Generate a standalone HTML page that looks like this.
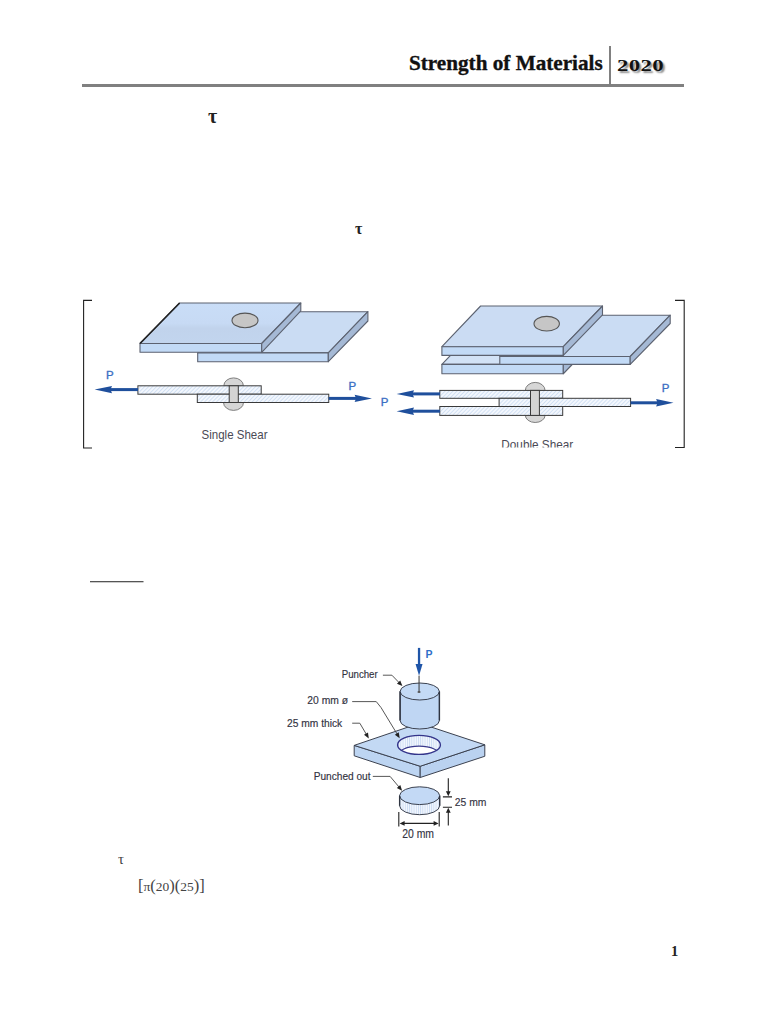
<!DOCTYPE html>
<html><head><meta charset="utf-8">
<style>
html,body{margin:0;padding:0;background:#fff;}
body{width:768px;height:1024px;position:relative;overflow:hidden;font-family:"Liberation Serif",serif;}
.a{position:absolute;white-space:nowrap;line-height:1;}
#hdr{left:409px;top:53px;font-size:21.5px;font-weight:bold;color:#111;-webkit-text-stroke:0.35px #111;transform-origin:0 0;transform:scaleX(0.985);}
#yr{left:617px;top:56.5px;font-size:17.5px;transform:scaleX(1.3);transform-origin:0 0;letter-spacing:0.3px;font-weight:bold;color:#111;text-shadow:1.5px 1.5px 1.5px rgba(0,0,0,0.45);}
#hline{left:82px;top:84px;width:602px;height:3px;background:#808080;}
#vline{left:608.5px;top:46px;width:2.3px;height:39px;background:#808080;}
svg{position:absolute;left:0;top:0;}
.br{font-size:16.5px;}
</style></head>
<body>
<div class="a" id="hdr">Strength of Materials</div>
<div class="a" id="yr">2020</div>
<div class="a" id="hline"></div>
<div class="a" id="vline"></div>

<div class="a" style="left:208px;top:106px;font-size:20px;font-weight:bold;color:#222;">&#964;</div>
<div class="a" style="left:355px;top:221px;font-size:16px;font-weight:bold;color:#222;">&#964;</div>

<svg width="768" height="1024" viewBox="0 0 768 1024">
<defs>
<pattern id="hatch" patternUnits="userSpaceOnUse" width="2.8" height="2.8" patternTransform="rotate(45)">
<rect width="2.8" height="2.8" fill="#f3f7fd"/>
<line x1="0" y1="0" x2="0" y2="2.8" stroke="#c3d6ef" stroke-width="1.3"/>
</pattern>
<linearGradient id="tg1" gradientUnits="userSpaceOnUse" x1="0" y1="303" x2="0" y2="343.5">
<stop offset="0" stop-color="#c9ddf7"/><stop offset="0.5" stop-color="#c7daf4"/><stop offset="0.62" stop-color="#c1d3ec"/><stop offset="1" stop-color="#c2d5ee"/>
</linearGradient>
</defs>
<!-- brackets -->
<path d="M92,300.4 H83.6 V448 H92" fill="none" stroke="#222" stroke-width="1.1"/>
<path d="M675,300.4 H684.2 V447.5 H675" fill="none" stroke="#222" stroke-width="1.1"/>

<!-- SINGLE SHEAR top -->
<g stroke="#5c6270" stroke-width="1.1" stroke-linejoin="round">
<polygon points="237.3,311.7 367.9,311.7 328.3,352.9 197.7,352.9" fill="#cadcf3"/>
<polygon points="197.7,352.9 328.3,352.9 328.3,361.7 197.7,361.7" fill="#c2daf6"/>
<polygon points="367.9,311.7 367.9,321 328.3,361.7 328.3,352.9" fill="#a5b9d5"/>
<polygon points="179.6,303 300.8,303 261.7,343.5 140,343.5" fill="url(#tg1)"/>
<polygon points="140,343.5 261.7,343.5 261.7,352.3 140,352.3" fill="#c2daf6"/>
<polygon points="300.8,303 300.8,310.8 261.7,352.3 261.7,343.5" fill="#a5b9d5"/>
<ellipse cx="245" cy="320.4" rx="13" ry="7.3" fill="#c6c6c6" stroke="#555"/>
</g>
<path d="M179.6,303 L140,343.5" stroke="#222" stroke-width="1.6"/>

<!-- SINGLE SHEAR section -->
<g fill="#d6d6d6" stroke="#707070" stroke-width="0.9"><path d="M223.8,385.8 A9.8,7.9 0 0 1 243.4,385.8 Z"/><path d="M223.5,402.5 A10,7.9 0 0 0 243.5,402.5 Z"/></g>
<g stroke="#3a3a3a" stroke-width="1">
<rect x="137.9" y="385.8" width="123.3" height="8.4" fill="url(#hatch)"/>
<rect x="197.3" y="394.2" width="131.45" height="8.3" fill="url(#hatch)"/>
<rect x="229.2" y="385.8" width="9.1" height="16.7" fill="#d4d4d4"/>
</g>
<g fill="#1f4f9c" stroke="none">
<rect x="108" y="388.1" width="30" height="3"/>
<polygon points="94.6,389.6 112,385.9 110.5,389.6 112,393.3"/>
<rect x="328.75" y="396.9" width="30" height="3"/>
<polygon points="372,398.4 354.6,394.7 356.1,398.4 354.6,402.1"/>
</g>
<g font-family="Liberation Sans, sans-serif" font-size="11.5" fill="#3b6fc4" stroke="#3b6fc4" stroke-width="0.35">
<text x="106" y="379">P</text>
<text x="348.5" y="390.2">P</text>
<text x="380.7" y="405.8">P</text>
<text x="661.8" y="391.6">P</text>
</g>
<text x="201.5" y="439.2" font-family="Liberation Sans, sans-serif" font-size="12.8" fill="#4a4a55" textLength="66" lengthAdjust="spacingAndGlyphs">Single Shear</text>

<!-- DOUBLE SHEAR top -->
<g stroke="#5c6270" stroke-width="1.1" stroke-linejoin="round">
<polygon points="480.6,324 602.5,324 563.3,364.4 441.9,364.4" fill="#d2e2f6"/>
<polygon points="441.9,364.4 563.3,364.4 563.3,373.75 441.9,373.75" fill="#c2daf6"/>
<polygon points="602.5,324 602.5,333 563.3,373.75 563.3,364.4" fill="#a5b9d5"/>
<polygon points="539.8,315.2 670.2,315.2 630.2,356.5 499.8,356.5" fill="#cadcf3"/>
<polygon points="499.8,356.5 630.2,356.5 630.2,364.4 499.8,364.4" fill="#c2daf6"/>
<polygon points="670.2,315.2 670.2,323.5 630.2,364.4 630.2,356.5" fill="#a5b9d5"/>
<polygon points="480.6,306 602.5,306 563.3,346.7 441.9,346.7" fill="#cbdcf3"/>
<polygon points="441.9,346.7 563.3,346.7 563.3,355.4 441.9,355.4" fill="#c2daf6"/>
<polygon points="602.5,306 602.5,314.8 563.3,355.4 563.3,346.7" fill="#a5b9d5"/>
<ellipse cx="546.7" cy="323.7" rx="12.7" ry="7.3" fill="#c6c6c6" stroke="#555"/>
</g>

<!-- DOUBLE SHEAR section -->
<g fill="#d6d6d6" stroke="#707070" stroke-width="0.9"><path d="M525.3,390.6 A9.9,8.2 0 0 1 545.1,390.6 Z"/><path d="M525.3,415.2 A9.9,7.3 0 0 0 545.1,415.2 Z"/></g>
<g stroke="#3a3a3a" stroke-width="1">
<rect x="439.8" y="390.4" width="122.9" height="7.9" fill="url(#hatch)"/>
<rect x="499.1" y="398.3" width="131.5" height="8.2" fill="url(#hatch)"/>
<rect x="439.8" y="406.5" width="122.9" height="8.9" fill="url(#hatch)"/>
<rect x="530.5" y="390.4" width="8.9" height="25" fill="#d4d4d4"/>
</g>
<g fill="#1f4f9c" stroke="none">
<rect x="410" y="392.4" width="30" height="3"/>
<polygon points="396.6,393.9 414,390.2 412.5,393.9 414,397.6"/>
<rect x="410" y="409.7" width="30" height="3"/>
<polygon points="396.6,411.2 414,407.5 412.5,411.2 414,414.9"/>
<rect x="630.6" y="401.3" width="30" height="3"/>
<polygon points="673.5,402.8 656.1,399.1 657.6,402.8 656.1,406.5"/>
</g>
<svg x="0" y="0" width="768" height="447.5" overflow="hidden">
<text x="501.3" y="448.6" font-family="Liberation Sans, sans-serif" font-size="12.8" fill="#4a4a55" textLength="72" lengthAdjust="spacingAndGlyphs">Double Shear</text>
</svg>

<!-- PUNCH DIAGRAM -->
<defs>
<pattern id="vh" patternUnits="userSpaceOnUse" width="2.2" height="4">
<rect width="2.2" height="4" fill="#f4f8fe"/>
<rect x="0" width="0.9" height="4" fill="#c9daf2"/>
</pattern>
<clipPath id="holeclip"><ellipse cx="419" cy="744.9" rx="21.4" ry="9.5"/></clipPath>
</defs>
<g stroke="#3c4250" stroke-width="1" stroke-linejoin="round">
<polygon points="354.2,745.4 420.2,766.25 420.2,777.5 354.2,755.8" fill="#bdd5f2"/>
<polygon points="420.2,766.25 484.8,744.8 484.8,756.25 420.2,777.5" fill="#bad2f0"/>
<polygon points="354.2,745.4 419.5,723.2 484.8,744.8 420.2,766.25" fill="#c3d9f4"/>
</g>
<g clip-path="url(#holeclip)">
<rect x="396" y="734" width="46" height="22" fill="url(#vh)"/>
<ellipse cx="419" cy="755.6" rx="21.4" ry="9.5" fill="#fff" stroke="#3a3a8c" stroke-width="1.1"/>
</g>
<ellipse cx="419" cy="744.9" rx="21.4" ry="9.5" fill="none" stroke="#34348a" stroke-width="1.4"/>
<g stroke="#3c4250" stroke-width="1" stroke-linejoin="round">
<path d="M400.1,691.5 V720.5 A19.65,8.5 0 0 0 439.4,720.5 V691.5 Z" fill="#bfd6f3"/>
<ellipse cx="419.75" cy="691.5" rx="19.65" ry="8.5" fill="#c4daf5"/>
</g>
<path d="M400.1,691.5 V720.5 M439.4,691.5 V720.5" stroke="#2e3440" stroke-width="1.4"/>
<g stroke="#3c4250" stroke-width="1" stroke-linejoin="round">
<path d="M399.6,795.7 V805.8 A20.05,8.9 0 0 0 439.7,805.8 V795.7 Z" fill="url(#vh)"/>
<ellipse cx="419.65" cy="795.7" rx="20.05" ry="8.9" fill="#c3d9f5"/>
</g>
<path d="M399.6,795.7 V805.8 M439.7,795.7 V805.8" stroke="#2e3440" stroke-width="1.3"/>
<g fill="#1f55a8">
<rect x="417.9" y="647.9" width="2.3" height="17"/>
<polygon points="419.05,675.7 415.55,664 422.55,664"/>
</g>
<line x1="419.05" y1="675.7" x2="419.05" y2="692" stroke="#333" stroke-width="1"/>
<ellipse cx="419.05" cy="692" rx="1.6" ry="0.9" fill="#555"/>
<text x="425.6" y="657.6" font-family="Liberation Sans, sans-serif" font-size="10.5" font-weight="bold" fill="#2f6fc9" textLength="6">P</text>
<g font-family="Liberation Sans, sans-serif" fill="#33333f" stroke="#33333f" stroke-width="0.15">
<text x="341.7" y="678.3" font-size="10" textLength="36" lengthAdjust="spacingAndGlyphs">Puncher</text>
<text x="307.3" y="704.2" font-size="10" textLength="40.7" lengthAdjust="spacingAndGlyphs">20 mm &#248;</text>
<text x="287" y="726.7" font-size="10" textLength="55.2" lengthAdjust="spacingAndGlyphs">25 mm thick</text>
<text x="313.7" y="779.6" font-size="10" textLength="56.9" lengthAdjust="spacingAndGlyphs">Punched out</text>
<text x="454.8" y="805.7" font-size="11.5" textLength="31.7" lengthAdjust="spacingAndGlyphs">25 mm</text>
<text x="402.2" y="837.7" font-size="12.8" textLength="31.8" lengthAdjust="spacingAndGlyphs">20 mm</text>
</g>
<g fill="none" stroke="#444" stroke-width="0.9">
<path d="M382.9,675.2 H391.9 L400.5,684.1"/>
<path d="M352.2,701.6 H376.25 L381,707.5 L398.5,736.3"/>
<path d="M352.2,723.2 H359.8 L367.6,736.4"/>
<path d="M372.8,776.4 H390.1 L400.5,788.8"/>
</g>
<g fill="none" stroke="#222" stroke-width="1.1">
<path d="M442.9,796.9 H452 M442.9,807.2 H452 M448.3,778.2 V793 M448.3,811 V825.6"/>
<path d="M398.8,812 V826.5 M439.2,812 V826.5 M402,823.4 H436"/>
</g>
<g fill="#222">
<polygon points="402.40,686.10 396.93,683.73 400.24,680.54"/>
<polygon points="399.70,738.20 394.82,734.77 398.71,732.32"/>
<polygon points="368.80,738.40 364.02,734.84 367.98,732.50"/>
<polygon points="402.10,790.70 396.80,787.97 400.33,785.01"/>
<polygon points="448.30,796.30 445.90,791.30 450.70,791.30"/>
<polygon points="448.30,807.80 450.70,812.80 445.90,812.80"/>
<polygon points="399.60,823.40 404.60,821.00 404.60,825.80"/>
<polygon points="438.60,823.40 433.60,825.80 433.60,821.00"/>
</g>

<!-- section underline -->
<rect x="90" y="581" width="53.5" height="1.3" fill="#555"/>
</svg>

<div class="a" style="left:118px;top:852px;font-size:15px;color:#444;">&#964;</div>
<div class="a" id="eq" style="left:138px;top:878px;font-size:13.5px;color:#444;letter-spacing:0px;"><span class="br">[</span>&#960;<span class="br">(</span>20<span class="br">)(</span>25<span class="br">)]</span></div>
<div class="a" style="left:671px;top:944px;font-size:14.5px;color:#222;font-weight:bold;">1</div>
</body></html>
